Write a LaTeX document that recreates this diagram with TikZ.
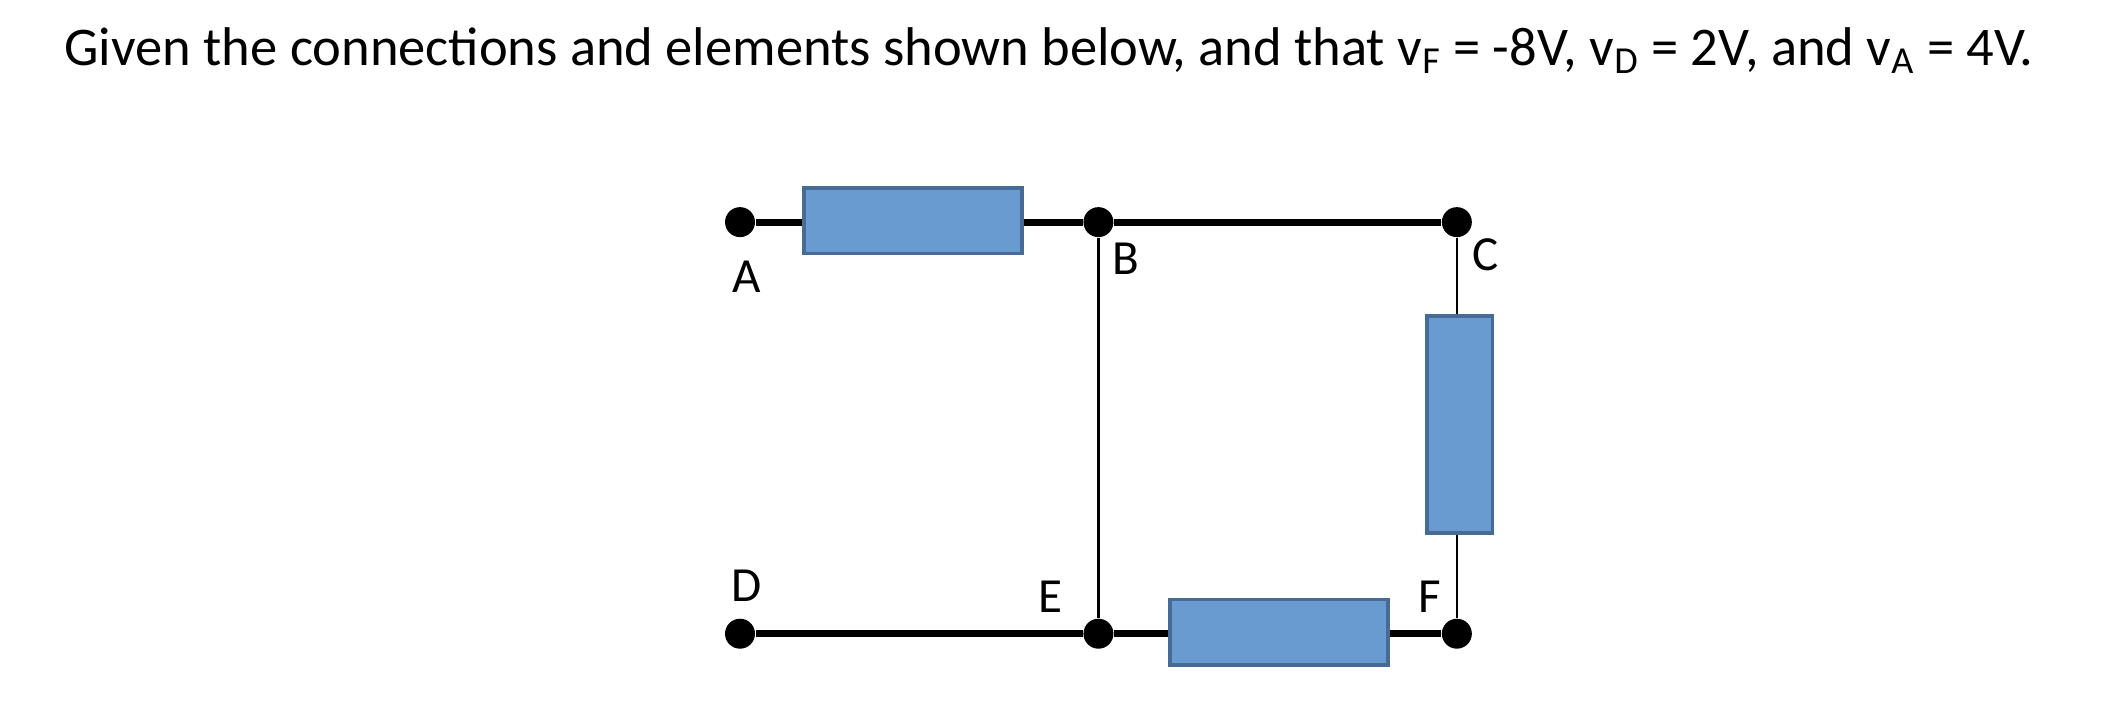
\documentclass[tikz,border=0pt]{standalone}
\usepackage{fontspec}
\setmainfont{Carlito}
\definecolor{resedge}{RGB}{69,107,150}
\definecolor{resfill}{RGB}{106,155,208}
\begin{document}
\begin{tikzpicture}[x=0.5pt,y=-0.5pt,
  thick wire/.style={line width=2.5pt},
  thin wire/.style={line width=1pt},
  res/.style={draw=resedge, line width=1.3pt, fill=resfill, inner sep=0pt},
  dot/.style={circle,fill=black,inner sep=0pt,minimum size=11pt},
  lbl/.style={font=\fontsize{18}{20}\selectfont,inner sep=0pt}]
\useasboundingbox (0,0) rectangle (1560,523);
\node[anchor=base west,inner sep=0pt,font=\fontsize{20}{24}\selectfont] (title) at (47,48)
 {Given the connections and elements shown below, and that v\textsubscript{F} = -8V, v\textsubscript{D} = 2V, and v\textsubscript{A} = 4V.};
\node[dot] (A) at (543,163) {};
\node[dot] (B) at (806,163) {};
\node[dot] (C) at (1069,163) {};
\node[dot] (D) at (543,465) {};
\node[dot] (E) at (806,465) {};
\node[dot] (F) at (1069,465) {};
\draw[thick wire] (A) -- (B) -- (C);
\draw[thick wire] (D) -- (E) -- (F);
\draw[thin wire] (B) -- (E);
\draw[thin wire] (C) -- (F);
\node[res,minimum width=80pt,minimum height=24pt] (R1) at (670,162) {};
\node[res,minimum width=24pt,minimum height=79.5pt] (R2) at (1071,311.5) {};
\node[res,minimum width=80pt,minimum height=24pt] (R3) at (938.5,464) {};
\node[lbl] (lA) at (548,203) {A};
\node[lbl] (lB) at (826,190) {B};
\node[lbl] (lC) at (1090,187) {C};
\node[lbl] (lD) at (548,430) {D};
\node[lbl] (lE) at (771,438) {E};
\node[lbl] (lF) at (1049,438) {F};
\end{tikzpicture}
\end{document}
